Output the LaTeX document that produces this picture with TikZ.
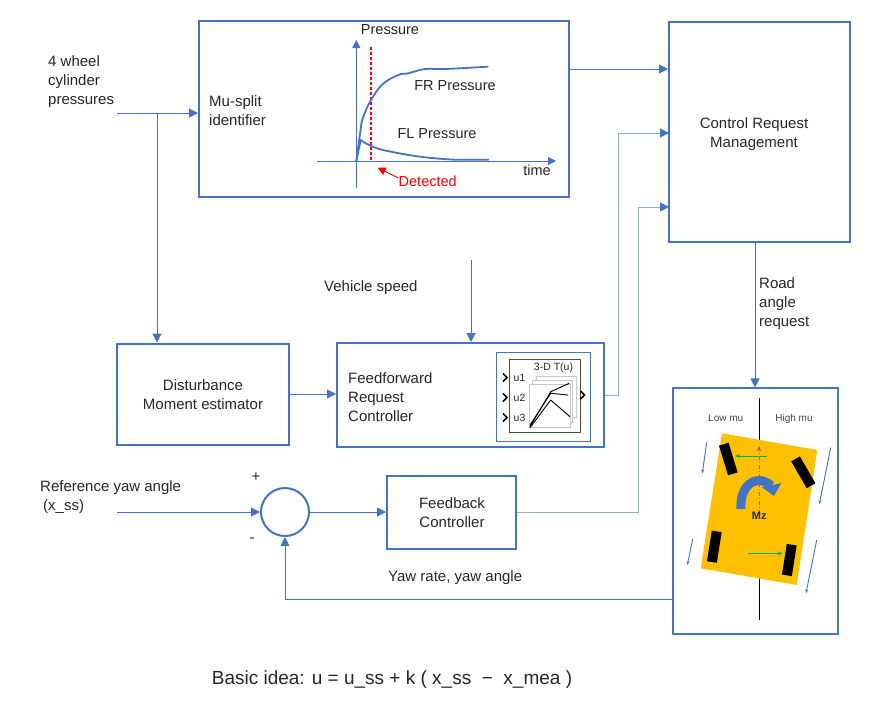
\documentclass[tikz,border=0pt]{standalone}
\usepackage{fontspec}
\setmainfont{Liberation Sans}
\usetikzlibrary{arrows.meta}
\definecolor{bl}{HTML}{4472C4}
\definecolor{lb}{HTML}{8FAADC}
\definecolor{org}{HTML}{FFC000}
\definecolor{tc}{HTML}{262626}
\definecolor{grn}{HTML}{00B050}
\definecolor{pur}{HTML}{9A5A8C}
\definecolor{rd}{HTML}{FF0000}
\begin{document}
\begin{tikzpicture}[x=1pt,y=-1pt,
  blk/.style={draw=bl, line width=2pt, inner sep=0pt},
  conn/.style={draw=bl, line width=1pt, -{Triangle[length=9pt,width=9pt]}},
  lconn/.style={draw=lb, line width=1pt, -{Triangle[length=9pt,width=9pt,color=bl]}},
  txt/.style={text=tc, inner sep=0pt, font=\fontsize{15}{19}\selectfont, align=left},
  gtxt/.style={text=tc, inner sep=0pt, font=\fontsize{14.5}{17}\selectfont},
  stxt/.style={text=tc, inner sep=0pt, font=\fontsize{10.5}{12}\selectfont},
  wheel/.style={fill=black, inner sep=0pt, minimum width=10pt, minimum height=31pt},
  page/.style={draw=black!22, fill=white, line width=0.8pt},
  chev/.style={draw=black, line width=1.6pt},
  slip/.style={draw=bl, line width=0.9pt, -{Stealth[length=4pt,width=3pt]}},
  grar/.style={draw=grn, line width=0.9pt, -{Stealth[length=5pt,width=4pt]}}
]
\useasboundingbox (0,0) rectangle (890,716);

% ---------- blocks ----------
\node[blk, minimum width=370pt, minimum height=176pt] (mu) at (384,109) {};
\node[blk, minimum width=181pt, minimum height=220pt] (crm) at (759.5,132) {};
\node[blk, minimum width=172pt, minimum height=101pt] (dist) at (203,394) {};
\node[blk, minimum width=267pt, minimum height=104pt] (ff) at (470.5,395) {};
\node[blk, minimum width=129pt, minimum height=73pt] (fb) at (451.5,512) {};
\node[draw=bl, line width=2pt, circle, minimum size=48pt, inner sep=0pt] (sum) at (285,512) {};
\node[draw=bl, line width=1.2pt, minimum width=165pt, minimum height=246pt, inner sep=0pt] (veh) at (755.5,511) {};

% ---------- block texts ----------
\node[txt, anchor=west] (mut) at (209,111) {Mu-split\\identifier};
\node[txt, align=center] (crmt) at (754,134) {Control Request\\Management};
\node[txt, align=center] (distt) at (203,395) {Disturbance\\Moment estimator};
\node[txt, anchor=west] (fft) at (348,397) {Feedforward\\Request\\Controller};
\node[txt, align=center] (fbt) at (452,513) {Feedback\\Controller};

% ---------- free texts ----------
\node[txt, anchor=west] (in4) at (48,82) {4 wheel\\cylinder\\pressures};
\node[txt, anchor=west] (vst) at (324,288) {Vehicle speed};
\node[txt, anchor=west] (rat) at (759,304) {Road\\angle\\request};
\node[txt, anchor=west] (reft) at (40,497) {Reference yaw angle\\\hspace*{3pt}(x\_ss)};
\node[txt, anchor=west] (yawt) at (388,578) {Yaw rate, yaw angle};
\node[txt] (plus) at (256,477) {+};
\node[txt] (minus) at (252,540) {-};
\node[text=tc, inner sep=0pt, font=\fontsize{19}{22}\selectfont] (basic) at (392,680)
  {Basic idea: u = u\_ss + k ( x\_ss \ −\ \ x\_mea )};

% ---------- connectors ----------
\coordinate (a4) at (117,113);
\draw[conn] (a4) -- (a4 -| mu.west);
\coordinate (j1) at (157,113);
\draw[conn] (j1) -- (j1 |- dist.north);
\coordinate (m1) at (569,69);
\draw[conn] (m1) -- (m1 -| crm.west);
\coordinate (c2) at (669,133);
\coordinate (c3) at (669,207);
\draw[lconn] (ff.east) -- ++(13,0) |- (c2);
\draw[lconn] (fb.east) -- ++(121,0) |- (c3);
\coordinate (vs) at (471,260);
\draw[conn] (vs) -- (vs |- ff.north);
\draw[conn] (dist.east) -- (dist.east -| ff.west);
\coordinate (r0) at (117,512);
\draw[conn] (r0) -- (sum.west);
\draw[conn] (sum.east) -- (sum.east -| fb.west);
\coordinate (fb1) at (673,599);
\draw[conn] (fb1) -| (sum.south);
\coordinate (cr) at (755,242);
\draw[conn] (cr) -- (cr |- veh.north);

% ---------- pressure graph ----------
\draw[bl, line width=1pt, -{Triangle[length=8pt,width=8pt]}] (356.3,188) -- (356.3,40);
\draw[bl, line width=1pt, -{Triangle[length=8pt,width=8pt]}] (317,161) -- (556,161);
\draw[draw=rd, line width=1.1pt, dash pattern=on 3pt off 2pt] (371,47) -- (371,161);
\draw[bl, line width=1.8pt, line cap=round, line join=round] (356.3,161) -- (361.7,121.7) -- plot[smooth, tension=0.6] coordinates {(361.7,121.7) (368.3,105) (381.7,85) (398.3,75) (408.3,73.3) (425,69) (445,69) (487.7,66.7)};
\draw[bl, line width=1.8pt, line cap=round, line join=round] (356.3,161) -- (360.7,140) .. controls (366,144) and (374,148) .. (385,150.5) .. controls (400,153.5) and (420,158) .. (455,159.7) -- (488.3,159.7);
\node[gtxt] (prt) at (390,30) {Pressure};
\node[gtxt] (frt) at (455,86) {FR Pressure};
\node[gtxt] (flt) at (437,133.5) {FL Pressure};
\node[gtxt] (tmt) at (537,170) {time};
\node[gtxt, text=rd, anchor=west] (dett) at (398.5,181) {Detected};
\draw[draw=rd, line width=0.9pt, -{Triangle[length=8pt,width=8pt]}] (dett.west) ++(0,-3) -- (377.7,167.7);

% ---------- simulink lookup icon ----------
\node[draw=bl, line width=0.8pt, minimum width=94pt, minimum height=89pt, inner sep=0pt] (icon) at (543,396.5) {};
\draw[draw=black!70, fill=white, line width=1pt] (509,359) rectangle (580,432);
\draw[page] (536,376.7) rectangle (576,417.7);
\draw[page] (532.7,380) rectangle (572.7,422.3);
\draw[page] (529.3,384.3) rectangle (570,427.7);
\draw[black, line width=0.9pt] (530,426.7) -- (550.7,391.7) -- (569.3,383.3);
\draw[black, line width=0.9pt] (530,425) -- (550.7,393.3) -- (568.3,395);
\draw[black, line width=0.9pt] (530,427.7) -- (550.7,400) -- (570,416.7);
\node[stxt] (tdt) at (553.5,368) {3-D T(u)};
\node[stxt] (u1) at (519.5,377.5) {u1};
\node[stxt] (u2) at (519.5,397.5) {u2};
\node[stxt] (u3) at (519.5,417.5) {u3};
\draw[chev] (503,373.5) -- (507,377.5) -- (503,381.5);
\draw[chev] (503,393.5) -- (507,397.5) -- (503,401.5);
\draw[chev] (503,413.5) -- (507,417.5) -- (503,421.5);
\draw[chev] (580.5,391) -- (584.5,395) -- (580.5,399);

% ---------- vehicle ----------
\draw[black, line width=1.2pt] (759.3,398) -- (759.3,620);
\node[text=tc!85, inner sep=0pt, font=\fontsize{10}{12}\selectfont] (lowmu) at (725.7,418.5) {Low mu};
\node[text=tc!85, inner sep=0pt, font=\fontsize{10}{12}\selectfont] (highmu) at (794,418.5) {High mu};
\fill[org] (722,433.3) -- (817.3,450) -- (796.7,585) -- (700.7,568.3) -- cycle;
\node[wheel, rotate=17] (wfl) at (728.3,459) {};
\node[wheel, rotate=30] (wfr) at (803.3,472.3) {};
\node[wheel, rotate=-9] (wrl) at (714.3,546.7) {};
\node[wheel, rotate=-9] (wrr) at (789.3,560) {};
\draw[grar] (766.7,456) -- (735,456);
\draw[grar] (748.3,553.3) -- (782.7,553.3);
\draw[pur, line width=0.9pt, dash pattern=on 4pt off 2pt on 1pt off 2pt, -{Stealth[length=5pt,width=4pt]}] (759,514) -- (759,446);
\draw[bl, line width=9pt, -{Triangle[length=11pt,width=19pt]}] (741,509) .. controls (740,489) and (750,480.5) .. (759,480.5) .. controls (767,480.5) and (772,487) .. (774,496);
\node[text=tc, inner sep=0pt, font=\bfseries\fontsize{11}{13}\selectfont] (mz) at (759.3,515.5) {Mz};
\draw[slip] (706.7,442.3) -- (702.3,473.3);
\draw[slip] (692.7,539) -- (687.3,565);
\draw[slip] (830.7,447.7) -- (819.3,504.3);
\draw[slip] (816.7,540) -- (806,593.3);
\end{tikzpicture}
\end{document}
